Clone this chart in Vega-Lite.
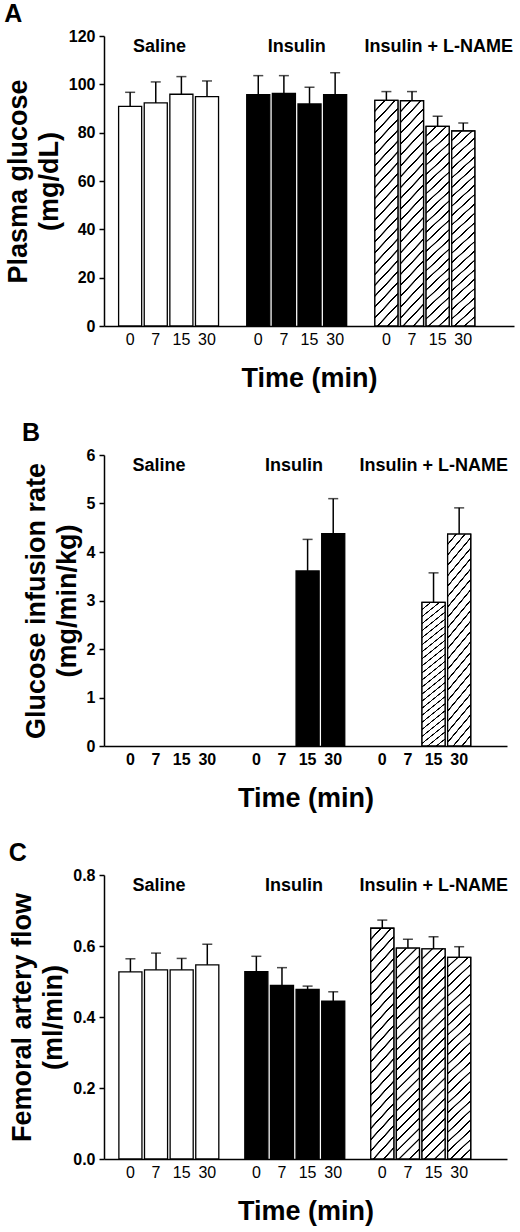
{
  "$schema": "https://vega.github.io/schema/vega-lite/v6.json",
  "background": "white",
  "padding": {"left": 4, "top": 2, "right": 5, "bottom": 2},
  "spacing": 30,
  "config": {
    "font": "Liberation Sans",
    "view": {"stroke": null},
    "axis": {"domainColor": "black", "domainWidth": 1.5, "tickColor": "black", "labelColor": "black", "titleColor": "black", "grid": false},
    "title": {"anchor": "start", "frame": "bounds", "fontSize": 25, "fontWeight": "bold", "color": "black", "offset": 1}
  },
  "datasets": {
    "glucose": [
      {"group": "Saline", "time": "0", "mean": 90.9, "upper": 96.7},
      {"group": "Saline", "time": "7", "mean": 92.3, "upper": 101.0},
      {"group": "Saline", "time": "15", "mean": 95.9, "upper": 103.2},
      {"group": "Saline", "time": "30", "mean": 94.9, "upper": 101.4},
      {"group": "Insulin", "time": "0", "mean": 95.7, "upper": 103.6},
      {"group": "Insulin", "time": "7", "mean": 96.3, "upper": 103.6},
      {"group": "Insulin", "time": "15", "mean": 91.9, "upper": 98.8},
      {"group": "Insulin", "time": "30", "mean": 95.7, "upper": 104.8},
      {"group": "Insulin + L-NAME", "time": "0", "mean": 93.4, "upper": 97.0},
      {"group": "Insulin + L-NAME", "time": "7", "mean": 93.2, "upper": 97.0},
      {"group": "Insulin + L-NAME", "time": "15", "mean": 82.6, "upper": 86.8},
      {"group": "Insulin + L-NAME", "time": "30", "mean": 80.7, "upper": 84.0}
    ],
    "gir": [
      {"group": "Saline", "time": "0", "mean": 0, "upper": null},
      {"group": "Saline", "time": "7", "mean": 0, "upper": null},
      {"group": "Saline", "time": "15", "mean": 0, "upper": null},
      {"group": "Saline", "time": "30", "mean": 0, "upper": null},
      {"group": "Insulin", "time": "0", "mean": 0, "upper": null},
      {"group": "Insulin", "time": "7", "mean": 0, "upper": null},
      {"group": "Insulin", "time": "15", "mean": 3.61, "upper": 4.26},
      {"group": "Insulin", "time": "30", "mean": 4.38, "upper": 5.10},
      {"group": "Insulin + L-NAME", "time": "0", "mean": 0, "upper": null},
      {"group": "Insulin + L-NAME", "time": "7", "mean": 0, "upper": null},
      {"group": "Insulin + L-NAME", "time": "15", "mean": 2.96, "upper": 3.57},
      {"group": "Insulin + L-NAME", "time": "30", "mean": 4.37, "upper": 4.91}
    ],
    "flow": [
      {"group": "Saline", "time": "0", "mean": 0.527, "upper": 0.564},
      {"group": "Saline", "time": "7", "mean": 0.533, "upper": 0.580},
      {"group": "Saline", "time": "15", "mean": 0.533, "upper": 0.565},
      {"group": "Saline", "time": "30", "mean": 0.547, "upper": 0.605},
      {"group": "Insulin", "time": "0", "mean": 0.528, "upper": 0.571},
      {"group": "Insulin", "time": "7", "mean": 0.489, "upper": 0.539},
      {"group": "Insulin", "time": "15", "mean": 0.478, "upper": 0.487},
      {"group": "Insulin", "time": "30", "mean": 0.445, "upper": 0.471},
      {"group": "Insulin + L-NAME", "time": "0", "mean": 0.650, "upper": 0.673},
      {"group": "Insulin + L-NAME", "time": "7", "mean": 0.594, "upper": 0.619},
      {"group": "Insulin + L-NAME", "time": "15", "mean": 0.592, "upper": 0.626},
      {"group": "Insulin + L-NAME", "time": "30", "mean": 0.568, "upper": 0.598}
    ],
    "groups": [
      {"group": "Saline"},
      {"group": "Insulin"},
      {"group": "Insulin + L-NAME"}
    ]
  },
  "vconcat": [
    {
      "title": "A",
      "width": 410,
      "height": 290,
      "encoding": {
        "x": {
          "field": "group", "type": "nominal",
          "scale": {"domain": ["Saline", "Insulin", "Insulin + L-NAME"], "paddingInner": 0.2, "paddingOuter": 0.2, "align": 0.26},
          "axis": {"labels": false, "ticks": false, "title": "Time (min)", "titleFontSize": 27, "titleFontWeight": "bold", "titlePadding": 39}
        }
      },
      "layer": [
        {
          "data": {"name": "glucose"},
          "mark": {"type": "bar", "stroke": "black", "strokeWidth": 1.3},
          "encoding": {
            "xOffset": {"field": "time", "type": "nominal", "scale": {"domain": ["0", "7", "15", "30"], "paddingInner": 0.1, "paddingOuter": 0.05}},
            "y": {
              "field": "mean", "type": "quantitative",
              "scale": {"domain": [0, 120], "nice": false},
              "axis": {"title": ["Plasma  glucose", "(mg/dL)"], "titleFontSize": 27, "titleFontWeight": "bold", "titleLineHeight": 31, "titlePadding": 5,
                       "values": [0, 20, 40, 60, 80, 100, 120], "labelFontSize": 16, "labelFontWeight": "bold", "labelPadding": 4, "tickSize": 5, "tickWidth": 1.5}
            },
            "fill": {"field": "group", "type": "nominal", "scale": {"domain": ["Saline", "Insulin", "Insulin + L-NAME"], "range": ["white", "black", "white"]}, "legend": null}
          }
        },
        {
          "data": {"name": "glucose"},
          "transform": [{"filter": "datum.group === 'Insulin + L-NAME'"}],
          "mark": {
            "type": "bar", "stroke": "black", "strokeWidth": 1.3,
            "fill": {"gradient": "linear", "x1": 0, "y1": 0, "x2": 0.1191, "y2": 1.0957, "stops": [
              {"offset": 0, "color": "white"},
              {"offset": 0.0385, "color": "white"}, {"offset": 0.0405, "color": "black"}, {"offset": 0.0465, "color": "black"}, {"offset": 0.0485, "color": "white"},
              {"offset": 0.0820, "color": "white"}, {"offset": 0.0840, "color": "black"}, {"offset": 0.0900, "color": "black"}, {"offset": 0.0920, "color": "white"},
              {"offset": 0.1254, "color": "white"}, {"offset": 0.1274, "color": "black"}, {"offset": 0.1334, "color": "black"}, {"offset": 0.1354, "color": "white"},
              {"offset": 0.1689, "color": "white"}, {"offset": 0.1709, "color": "black"}, {"offset": 0.1769, "color": "black"}, {"offset": 0.1789, "color": "white"},
              {"offset": 0.2124, "color": "white"}, {"offset": 0.2144, "color": "black"}, {"offset": 0.2204, "color": "black"}, {"offset": 0.2224, "color": "white"},
              {"offset": 0.2559, "color": "white"}, {"offset": 0.2579, "color": "black"}, {"offset": 0.2639, "color": "black"}, {"offset": 0.2659, "color": "white"},
              {"offset": 0.2993, "color": "white"}, {"offset": 0.3013, "color": "black"}, {"offset": 0.3073, "color": "black"}, {"offset": 0.3093, "color": "white"},
              {"offset": 0.3428, "color": "white"}, {"offset": 0.3448, "color": "black"}, {"offset": 0.3508, "color": "black"}, {"offset": 0.3528, "color": "white"},
              {"offset": 0.3863, "color": "white"}, {"offset": 0.3883, "color": "black"}, {"offset": 0.3943, "color": "black"}, {"offset": 0.3963, "color": "white"},
              {"offset": 0.4298, "color": "white"}, {"offset": 0.4318, "color": "black"}, {"offset": 0.4378, "color": "black"}, {"offset": 0.4398, "color": "white"},
              {"offset": 0.4733, "color": "white"}, {"offset": 0.4753, "color": "black"}, {"offset": 0.4813, "color": "black"}, {"offset": 0.4833, "color": "white"},
              {"offset": 0.5167, "color": "white"}, {"offset": 0.5187, "color": "black"}, {"offset": 0.5247, "color": "black"}, {"offset": 0.5267, "color": "white"},
              {"offset": 0.5602, "color": "white"}, {"offset": 0.5622, "color": "black"}, {"offset": 0.5682, "color": "black"}, {"offset": 0.5702, "color": "white"},
              {"offset": 0.6037, "color": "white"}, {"offset": 0.6057, "color": "black"}, {"offset": 0.6117, "color": "black"}, {"offset": 0.6137, "color": "white"},
              {"offset": 0.6472, "color": "white"}, {"offset": 0.6492, "color": "black"}, {"offset": 0.6552, "color": "black"}, {"offset": 0.6572, "color": "white"},
              {"offset": 0.6907, "color": "white"}, {"offset": 0.6927, "color": "black"}, {"offset": 0.6987, "color": "black"}, {"offset": 0.7007, "color": "white"},
              {"offset": 0.7341, "color": "white"}, {"offset": 0.7361, "color": "black"}, {"offset": 0.7421, "color": "black"}, {"offset": 0.7441, "color": "white"},
              {"offset": 0.7776, "color": "white"}, {"offset": 0.7796, "color": "black"}, {"offset": 0.7856, "color": "black"}, {"offset": 0.7876, "color": "white"},
              {"offset": 0.8211, "color": "white"}, {"offset": 0.8231, "color": "black"}, {"offset": 0.8291, "color": "black"}, {"offset": 0.8311, "color": "white"},
              {"offset": 0.8646, "color": "white"}, {"offset": 0.8666, "color": "black"}, {"offset": 0.8726, "color": "black"}, {"offset": 0.8746, "color": "white"},
              {"offset": 0.9080, "color": "white"}, {"offset": 0.9100, "color": "black"}, {"offset": 0.9160, "color": "black"}, {"offset": 0.9180, "color": "white"},
              {"offset": 0.9515, "color": "white"}, {"offset": 0.9535, "color": "black"}, {"offset": 0.9595, "color": "black"}, {"offset": 0.9615, "color": "white"},
              {"offset": 1, "color": "white"}
            ]}
          },
          "encoding": {
            "xOffset": {"field": "time", "type": "nominal"},
            "y": {"field": "mean", "type": "quantitative"}
          }
        },
        {
          "data": {"name": "glucose"},
          "mark": {"type": "rule", "color": "black", "strokeWidth": 1.5},
          "encoding": {
            "xOffset": {"field": "time", "type": "nominal"},
            "y": {"field": "mean", "type": "quantitative"},
            "y2": {"field": "upper"}
          }
        },
        {
          "data": {"name": "glucose"},
          "mark": {"type": "tick", "color": "black", "size": 10, "thickness": 1.5},
          "encoding": {
            "xOffset": {"field": "time", "type": "nominal"},
            "y": {"field": "upper", "type": "quantitative"}
          }
        },
        {
          "data": {"name": "glucose"},
          "mark": {"type": "text", "fontSize": 16, "dy": 14, "baseline": "middle", "color": "black"},
          "encoding": {
            "xOffset": {"field": "time", "type": "nominal"},
            "y": {"datum": 0, "type": "quantitative"},
            "text": {"field": "time"}
          }
        },
        {
          "data": {"name": "groups"},
          "transform": [{"filter": "datum.group === 'Saline'"}],
          "mark": {"type": "text", "fontSize": 18, "fontWeight": "bold", "dy": 11, "dx": -9, "baseline": "middle", "color": "black"},
          "encoding": {"y": {"datum": 120, "type": "quantitative"}, "text": {"field": "group"}}
        },
        {
          "data": {"name": "groups"},
          "transform": [{"filter": "datum.group === 'Insulin'"}],
          "mark": {"type": "text", "fontSize": 18, "fontWeight": "bold", "dy": 11, "baseline": "middle", "color": "black"},
          "encoding": {"y": {"datum": 120, "type": "quantitative"}, "text": {"field": "group"}}
        },
        {
          "data": {"name": "groups"},
          "transform": [{"filter": "datum.group === 'Insulin + L-NAME'"}],
          "mark": {"type": "text", "fontSize": 18, "fontWeight": "bold", "dy": 11, "dx": 14, "baseline": "middle", "color": "black"},
          "encoding": {"y": {"datum": 120, "type": "quantitative"}, "text": {"field": "group"}}
        }
      ]
    },
    {
      "title": "B",
      "width": 403,
      "height": 291,
      "encoding": {
        "x": {
          "field": "group", "type": "nominal",
          "scale": {"domain": ["Saline", "Insulin", "Insulin + L-NAME"], "paddingInner": 0.2, "paddingOuter": 0.2, "align": 0.27},
          "axis": {"labels": false, "ticks": false, "title": "Time (min)", "titleFontSize": 27, "titleFontWeight": "bold", "titlePadding": 39}
        }
      },
      "layer": [
        {
          "data": {"name": "gir"},
          "transform": [{"filter": "datum.mean > 0"}],
          "mark": {"type": "bar", "stroke": "black", "strokeWidth": 1.3},
          "encoding": {
            "xOffset": {"field": "time", "type": "nominal", "scale": {"domain": ["0", "7", "15", "30"], "paddingInner": 0.1, "paddingOuter": 0.05}},
            "y": {
              "field": "mean", "type": "quantitative",
              "scale": {"domain": [0, 6], "nice": false},
              "axis": {"title": ["Glucose infusion rate", "(mg/min/kg)"], "titleFontSize": 27, "titleFontWeight": "bold", "titleLineHeight": 31, "titlePadding": 5,
                       "values": [0, 1, 2, 3, 4, 5, 6], "labelFontSize": 16, "labelFontWeight": "bold", "labelPadding": 4, "tickSize": 5, "tickWidth": 1.5}
            },
            "fill": {"field": "group", "type": "nominal", "scale": {"domain": ["Saline", "Insulin", "Insulin + L-NAME"], "range": ["white", "black", "white"]}, "legend": null}
          }
        },
        {
          "data": {"name": "gir"},
          "transform": [{"filter": "datum.group === 'Insulin + L-NAME' && datum.mean > 0"}],
          "mark": {
            "type": "bar", "stroke": "black", "strokeWidth": 1.3,
            "fill": {"gradient": "linear", "x1": 0, "y1": 0, "x2": 0.1443, "y2": 1.111, "stops": [
              {"offset": 0, "color": "white"},
              {"offset": 0.0385, "color": "white"}, {"offset": 0.0405, "color": "black"}, {"offset": 0.0465, "color": "black"}, {"offset": 0.0485, "color": "white"},
              {"offset": 0.0820, "color": "white"}, {"offset": 0.0840, "color": "black"}, {"offset": 0.0900, "color": "black"}, {"offset": 0.0920, "color": "white"},
              {"offset": 0.1254, "color": "white"}, {"offset": 0.1274, "color": "black"}, {"offset": 0.1334, "color": "black"}, {"offset": 0.1354, "color": "white"},
              {"offset": 0.1689, "color": "white"}, {"offset": 0.1709, "color": "black"}, {"offset": 0.1769, "color": "black"}, {"offset": 0.1789, "color": "white"},
              {"offset": 0.2124, "color": "white"}, {"offset": 0.2144, "color": "black"}, {"offset": 0.2204, "color": "black"}, {"offset": 0.2224, "color": "white"},
              {"offset": 0.2559, "color": "white"}, {"offset": 0.2579, "color": "black"}, {"offset": 0.2639, "color": "black"}, {"offset": 0.2659, "color": "white"},
              {"offset": 0.2993, "color": "white"}, {"offset": 0.3013, "color": "black"}, {"offset": 0.3073, "color": "black"}, {"offset": 0.3093, "color": "white"},
              {"offset": 0.3428, "color": "white"}, {"offset": 0.3448, "color": "black"}, {"offset": 0.3508, "color": "black"}, {"offset": 0.3528, "color": "white"},
              {"offset": 0.3863, "color": "white"}, {"offset": 0.3883, "color": "black"}, {"offset": 0.3943, "color": "black"}, {"offset": 0.3963, "color": "white"},
              {"offset": 0.4298, "color": "white"}, {"offset": 0.4318, "color": "black"}, {"offset": 0.4378, "color": "black"}, {"offset": 0.4398, "color": "white"},
              {"offset": 0.4733, "color": "white"}, {"offset": 0.4753, "color": "black"}, {"offset": 0.4813, "color": "black"}, {"offset": 0.4833, "color": "white"},
              {"offset": 0.5167, "color": "white"}, {"offset": 0.5187, "color": "black"}, {"offset": 0.5247, "color": "black"}, {"offset": 0.5267, "color": "white"},
              {"offset": 0.5602, "color": "white"}, {"offset": 0.5622, "color": "black"}, {"offset": 0.5682, "color": "black"}, {"offset": 0.5702, "color": "white"},
              {"offset": 0.6037, "color": "white"}, {"offset": 0.6057, "color": "black"}, {"offset": 0.6117, "color": "black"}, {"offset": 0.6137, "color": "white"},
              {"offset": 0.6472, "color": "white"}, {"offset": 0.6492, "color": "black"}, {"offset": 0.6552, "color": "black"}, {"offset": 0.6572, "color": "white"},
              {"offset": 0.6907, "color": "white"}, {"offset": 0.6927, "color": "black"}, {"offset": 0.6987, "color": "black"}, {"offset": 0.7007, "color": "white"},
              {"offset": 0.7341, "color": "white"}, {"offset": 0.7361, "color": "black"}, {"offset": 0.7421, "color": "black"}, {"offset": 0.7441, "color": "white"},
              {"offset": 0.7776, "color": "white"}, {"offset": 0.7796, "color": "black"}, {"offset": 0.7856, "color": "black"}, {"offset": 0.7876, "color": "white"},
              {"offset": 0.8211, "color": "white"}, {"offset": 0.8231, "color": "black"}, {"offset": 0.8291, "color": "black"}, {"offset": 0.8311, "color": "white"},
              {"offset": 0.8646, "color": "white"}, {"offset": 0.8666, "color": "black"}, {"offset": 0.8726, "color": "black"}, {"offset": 0.8746, "color": "white"},
              {"offset": 0.9080, "color": "white"}, {"offset": 0.9100, "color": "black"}, {"offset": 0.9160, "color": "black"}, {"offset": 0.9180, "color": "white"},
              {"offset": 0.9515, "color": "white"}, {"offset": 0.9535, "color": "black"}, {"offset": 0.9595, "color": "black"}, {"offset": 0.9615, "color": "white"},
              {"offset": 1, "color": "white"}
            ]}
          },
          "encoding": {
            "xOffset": {"field": "time", "type": "nominal"},
            "y": {"field": "mean", "type": "quantitative"}
          }
        },
        {
          "data": {"name": "gir"},
          "transform": [{"filter": "isValid(datum.upper)"}],
          "mark": {"type": "rule", "color": "black", "strokeWidth": 1.5},
          "encoding": {
            "xOffset": {"field": "time", "type": "nominal"},
            "y": {"field": "mean", "type": "quantitative"},
            "y2": {"field": "upper"}
          }
        },
        {
          "data": {"name": "gir"},
          "transform": [{"filter": "isValid(datum.upper)"}],
          "mark": {"type": "tick", "color": "black", "size": 10, "thickness": 1.5},
          "encoding": {
            "xOffset": {"field": "time", "type": "nominal"},
            "y": {"field": "upper", "type": "quantitative"}
          }
        },
        {
          "data": {"name": "gir"},
          "mark": {"type": "text", "fontSize": 16, "fontWeight": "bold", "dy": 14, "baseline": "middle", "color": "black"},
          "encoding": {
            "xOffset": {"field": "time", "type": "nominal"},
            "y": {"datum": 0, "type": "quantitative"},
            "text": {"field": "time"}
          }
        },
        {
          "data": {"name": "groups"},
          "transform": [{"filter": "datum.group === 'Saline'"}],
          "mark": {"type": "text", "fontSize": 18, "fontWeight": "bold", "dy": 11, "dx": -9, "baseline": "middle", "color": "black"},
          "encoding": {"y": {"datum": 6, "type": "quantitative"}, "text": {"field": "group"}}
        },
        {
          "data": {"name": "groups"},
          "transform": [{"filter": "datum.group === 'Insulin'"}],
          "mark": {"type": "text", "fontSize": 18, "fontWeight": "bold", "dy": 11, "baseline": "middle", "color": "black"},
          "encoding": {"y": {"datum": 6, "type": "quantitative"}, "text": {"field": "group"}}
        },
        {
          "data": {"name": "groups"},
          "transform": [{"filter": "datum.group === 'Insulin + L-NAME'"}],
          "mark": {"type": "text", "fontSize": 18, "fontWeight": "bold", "dy": 11, "dx": 14, "baseline": "middle", "color": "black"},
          "encoding": {"y": {"datum": 6, "type": "quantitative"}, "text": {"field": "group"}}
        }
      ]
    },
    {
      "title": "C",
      "width": 403,
      "height": 284,
      "encoding": {
        "x": {
          "field": "group", "type": "nominal",
          "scale": {"domain": ["Saline", "Insulin", "Insulin + L-NAME"], "paddingInner": 0.2, "paddingOuter": 0.2, "align": 0.27},
          "axis": {"labels": false, "ticks": false, "title": "Time (min)", "titleFontSize": 27, "titleFontWeight": "bold", "titlePadding": 39}
        }
      },
      "layer": [
        {
          "data": {"name": "flow"},
          "mark": {"type": "bar", "stroke": "black", "strokeWidth": 1.3},
          "encoding": {
            "xOffset": {"field": "time", "type": "nominal", "scale": {"domain": ["0", "7", "15", "30"], "paddingInner": 0.1, "paddingOuter": 0.05}},
            "y": {
              "field": "mean", "type": "quantitative",
              "scale": {"domain": [0, 0.8], "nice": false},
              "axis": {"title": ["Femoral artery flow", "(ml/min)"], "titleFontSize": 27, "titleFontWeight": "bold", "titleLineHeight": 31, "titlePadding": 5,
                       "values": [0, 0.2, 0.4, 0.6, 0.8], "format": ".1f", "labelFontSize": 16, "labelFontWeight": "bold", "labelPadding": 4, "tickSize": 5, "tickWidth": 1.5}
            },
            "fill": {"field": "group", "type": "nominal", "scale": {"domain": ["Saline", "Insulin", "Insulin + L-NAME"], "range": ["white", "black", "white"]}, "legend": null}
          }
        },
        {
          "data": {"name": "flow"},
          "transform": [{"filter": "datum.group === 'Insulin + L-NAME'"}],
          "mark": {
            "type": "bar", "stroke": "black", "strokeWidth": 1.3,
            "fill": {"gradient": "linear", "x1": 0, "y1": 0, "x2": 0.1191, "y2": 1.0957, "stops": [
              {"offset": 0, "color": "white"},
              {"offset": 0.0385, "color": "white"}, {"offset": 0.0405, "color": "black"}, {"offset": 0.0465, "color": "black"}, {"offset": 0.0485, "color": "white"},
              {"offset": 0.0820, "color": "white"}, {"offset": 0.0840, "color": "black"}, {"offset": 0.0900, "color": "black"}, {"offset": 0.0920, "color": "white"},
              {"offset": 0.1254, "color": "white"}, {"offset": 0.1274, "color": "black"}, {"offset": 0.1334, "color": "black"}, {"offset": 0.1354, "color": "white"},
              {"offset": 0.1689, "color": "white"}, {"offset": 0.1709, "color": "black"}, {"offset": 0.1769, "color": "black"}, {"offset": 0.1789, "color": "white"},
              {"offset": 0.2124, "color": "white"}, {"offset": 0.2144, "color": "black"}, {"offset": 0.2204, "color": "black"}, {"offset": 0.2224, "color": "white"},
              {"offset": 0.2559, "color": "white"}, {"offset": 0.2579, "color": "black"}, {"offset": 0.2639, "color": "black"}, {"offset": 0.2659, "color": "white"},
              {"offset": 0.2993, "color": "white"}, {"offset": 0.3013, "color": "black"}, {"offset": 0.3073, "color": "black"}, {"offset": 0.3093, "color": "white"},
              {"offset": 0.3428, "color": "white"}, {"offset": 0.3448, "color": "black"}, {"offset": 0.3508, "color": "black"}, {"offset": 0.3528, "color": "white"},
              {"offset": 0.3863, "color": "white"}, {"offset": 0.3883, "color": "black"}, {"offset": 0.3943, "color": "black"}, {"offset": 0.3963, "color": "white"},
              {"offset": 0.4298, "color": "white"}, {"offset": 0.4318, "color": "black"}, {"offset": 0.4378, "color": "black"}, {"offset": 0.4398, "color": "white"},
              {"offset": 0.4733, "color": "white"}, {"offset": 0.4753, "color": "black"}, {"offset": 0.4813, "color": "black"}, {"offset": 0.4833, "color": "white"},
              {"offset": 0.5167, "color": "white"}, {"offset": 0.5187, "color": "black"}, {"offset": 0.5247, "color": "black"}, {"offset": 0.5267, "color": "white"},
              {"offset": 0.5602, "color": "white"}, {"offset": 0.5622, "color": "black"}, {"offset": 0.5682, "color": "black"}, {"offset": 0.5702, "color": "white"},
              {"offset": 0.6037, "color": "white"}, {"offset": 0.6057, "color": "black"}, {"offset": 0.6117, "color": "black"}, {"offset": 0.6137, "color": "white"},
              {"offset": 0.6472, "color": "white"}, {"offset": 0.6492, "color": "black"}, {"offset": 0.6552, "color": "black"}, {"offset": 0.6572, "color": "white"},
              {"offset": 0.6907, "color": "white"}, {"offset": 0.6927, "color": "black"}, {"offset": 0.6987, "color": "black"}, {"offset": 0.7007, "color": "white"},
              {"offset": 0.7341, "color": "white"}, {"offset": 0.7361, "color": "black"}, {"offset": 0.7421, "color": "black"}, {"offset": 0.7441, "color": "white"},
              {"offset": 0.7776, "color": "white"}, {"offset": 0.7796, "color": "black"}, {"offset": 0.7856, "color": "black"}, {"offset": 0.7876, "color": "white"},
              {"offset": 0.8211, "color": "white"}, {"offset": 0.8231, "color": "black"}, {"offset": 0.8291, "color": "black"}, {"offset": 0.8311, "color": "white"},
              {"offset": 0.8646, "color": "white"}, {"offset": 0.8666, "color": "black"}, {"offset": 0.8726, "color": "black"}, {"offset": 0.8746, "color": "white"},
              {"offset": 0.9080, "color": "white"}, {"offset": 0.9100, "color": "black"}, {"offset": 0.9160, "color": "black"}, {"offset": 0.9180, "color": "white"},
              {"offset": 0.9515, "color": "white"}, {"offset": 0.9535, "color": "black"}, {"offset": 0.9595, "color": "black"}, {"offset": 0.9615, "color": "white"},
              {"offset": 1, "color": "white"}
            ]}
          },
          "encoding": {
            "xOffset": {"field": "time", "type": "nominal"},
            "y": {"field": "mean", "type": "quantitative"}
          }
        },
        {
          "data": {"name": "flow"},
          "mark": {"type": "rule", "color": "black", "strokeWidth": 1.5},
          "encoding": {
            "xOffset": {"field": "time", "type": "nominal"},
            "y": {"field": "mean", "type": "quantitative"},
            "y2": {"field": "upper"}
          }
        },
        {
          "data": {"name": "flow"},
          "mark": {"type": "tick", "color": "black", "size": 10, "thickness": 1.5},
          "encoding": {
            "xOffset": {"field": "time", "type": "nominal"},
            "y": {"field": "upper", "type": "quantitative"}
          }
        },
        {
          "data": {"name": "flow"},
          "mark": {"type": "text", "fontSize": 16, "dy": 14, "baseline": "middle", "color": "black"},
          "encoding": {
            "xOffset": {"field": "time", "type": "nominal"},
            "y": {"datum": 0, "type": "quantitative"},
            "text": {"field": "time"}
          }
        },
        {
          "data": {"name": "groups"},
          "transform": [{"filter": "datum.group === 'Saline'"}],
          "mark": {"type": "text", "fontSize": 18, "fontWeight": "bold", "dy": 11, "dx": -9, "baseline": "middle", "color": "black"},
          "encoding": {"y": {"datum": 0.8, "type": "quantitative"}, "text": {"field": "group"}}
        },
        {
          "data": {"name": "groups"},
          "transform": [{"filter": "datum.group === 'Insulin'"}],
          "mark": {"type": "text", "fontSize": 18, "fontWeight": "bold", "dy": 11, "baseline": "middle", "color": "black"},
          "encoding": {"y": {"datum": 0.8, "type": "quantitative"}, "text": {"field": "group"}}
        },
        {
          "data": {"name": "groups"},
          "transform": [{"filter": "datum.group === 'Insulin + L-NAME'"}],
          "mark": {"type": "text", "fontSize": 18, "fontWeight": "bold", "dy": 11, "dx": 14, "baseline": "middle", "color": "black"},
          "encoding": {"y": {"datum": 0.8, "type": "quantitative"}, "text": {"field": "group"}}
        }
      ]
    }
  ]
}
